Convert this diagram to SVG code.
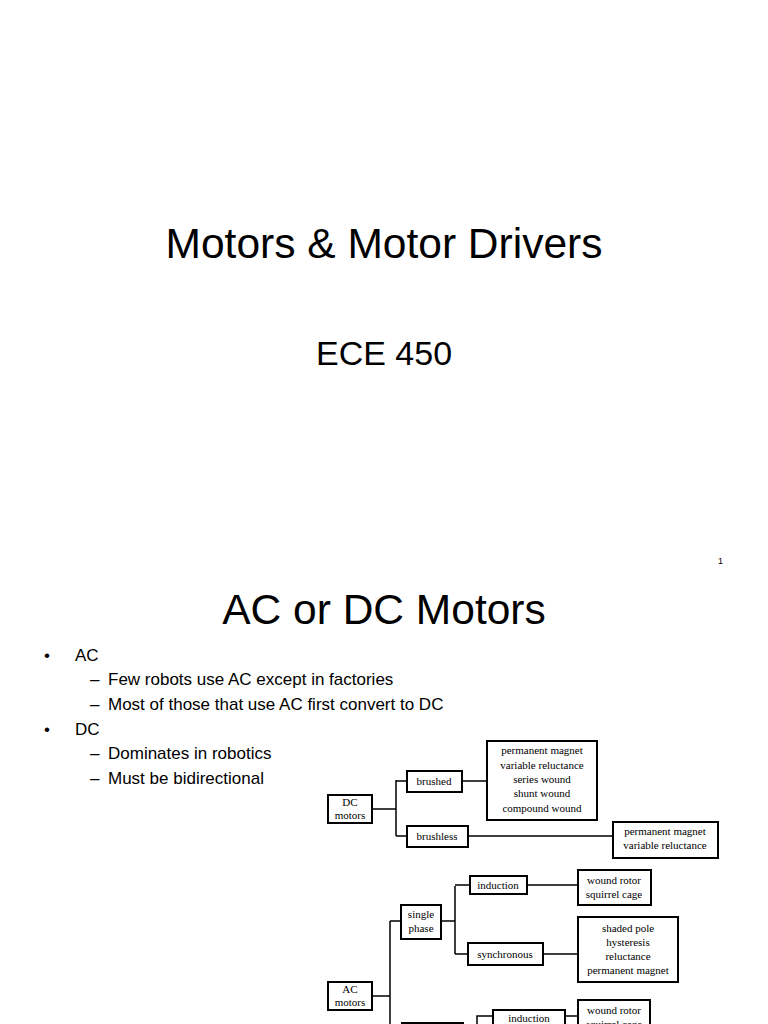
<svg xmlns="http://www.w3.org/2000/svg" width="768" height="1024" viewBox="0 0 768 1024">
<style>
.s{font-family:"Liberation Sans",Arial,sans-serif;fill:#000}
.b{fill:#fff;stroke:#000;stroke-width:2}
.t{font-family:"Liberation Serif","Times New Roman",serif;font-size:11px;text-anchor:middle;fill:#000}
.c{fill:none;stroke:#000;stroke-width:1.5}
</style>
<rect width="768" height="1024" fill="#fff"/>
<text class="s" x="384" y="258" font-size="42.5" text-anchor="middle">Motors &amp; Motor Drivers</text>
<text class="s" x="384" y="365" font-size="34" text-anchor="middle">ECE 450</text>
<text class="s" x="718" y="564" font-size="9">1</text>
<text class="s" x="384" y="624" font-size="42.5" text-anchor="middle">AC or DC Motors</text>
<g class="s" font-size="17">
<text x="44" y="661">•</text><text x="75" y="661">AC</text>
<text x="90" y="685">–</text><text x="108" y="685">Few robots use AC except in factories</text>
<text x="90" y="710">–</text><text x="108" y="710">Most of those that use AC first convert to DC</text>
<text x="44" y="735">•</text><text x="75" y="735">DC</text>
<text x="90" y="759">–</text><text x="108" y="759">Dominates in robotics</text>
<text x="90" y="784">–</text><text x="108" y="784">Must be bidirectional</text>
</g>
<g id="connectors" class="c">
<path d="M372 809H396M396 780V836M396 781H407M396 836H407M462 781H487M468 836H613"/>
<path d="M372 996H390M390 921V1024M390 921H401M441 921H455M455 886V954M455 885H470M455 954H468M527 885H578M543 954H578"/>
<path d="M477 1024V1016H493M565 1016H578"/>
</g>
<g id="dc"><rect class="b" x="328" y="795" width="44" height="28"/><text class="t" x="350" y="806">DC</text><text class="t" x="350" y="819">motors</text></g>
<g id="brushed"><rect class="b" x="407" y="771" width="55" height="21"/><text class="t" x="434" y="785">brushed</text></g>
<g id="dcbr"><rect class="b" x="487" y="741" width="110" height="79"/><text class="t" x="542" y="754">permanent magnet</text><text class="t" x="542" y="769">variable reluctance</text><text class="t" x="542" y="783">series wound</text><text class="t" x="542" y="797">shunt wound</text><text class="t" x="542" y="812">compound wound</text></g>
<g id="brushless"><rect class="b" x="407" y="826" width="61" height="21"/><text class="t" x="437" y="840">brushless</text></g>
<g id="dcbl"><rect class="b" x="613" y="822" width="105" height="36"/><text class="t" x="665" y="835">permanent magnet</text><text class="t" x="665" y="849">variable reluctance</text></g>
<g id="ac"><rect class="b" x="328" y="982" width="44" height="28"/><text class="t" x="350" y="993">AC</text><text class="t" x="350" y="1006">motors</text></g>
<g id="single"><rect class="b" x="401" y="905" width="40" height="34"/><text class="t" x="421" y="918">single</text><text class="t" x="421" y="932">phase</text></g>
<g id="ind1"><rect class="b" x="470" y="876" width="57" height="18"/><text class="t" x="498" y="889">induction</text></g>
<g id="wr1"><rect class="b" x="578" y="870" width="73" height="35"/><text class="t" x="614" y="884">wound rotor</text><text class="t" x="614" y="898">squirrel cage</text></g>
<g id="sync"><rect class="b" x="468" y="943" width="75" height="22"/><text class="t" x="505" y="958">synchronous</text></g>
<g id="sh"><rect class="b" x="578" y="917" width="100" height="65"/><text class="t" x="628" y="932">shaded pole</text><text class="t" x="628" y="946">hysteresis</text><text class="t" x="628" y="960">reluctance</text><text class="t" x="628" y="974">permanent magnet</text></g>
<g id="poly"><rect class="b" x="402" y="1023" width="61" height="10"/></g>
<g id="ind2"><rect class="b" x="493" y="1010" width="72" height="20"/><text class="t" x="529" y="1022">induction</text></g>
<g id="wr2"><rect class="b" x="578" y="1000" width="72" height="35"/><text class="t" x="614" y="1014">wound rotor</text><text class="t" x="614" y="1028">squirrel cage</text></g>
</svg>
